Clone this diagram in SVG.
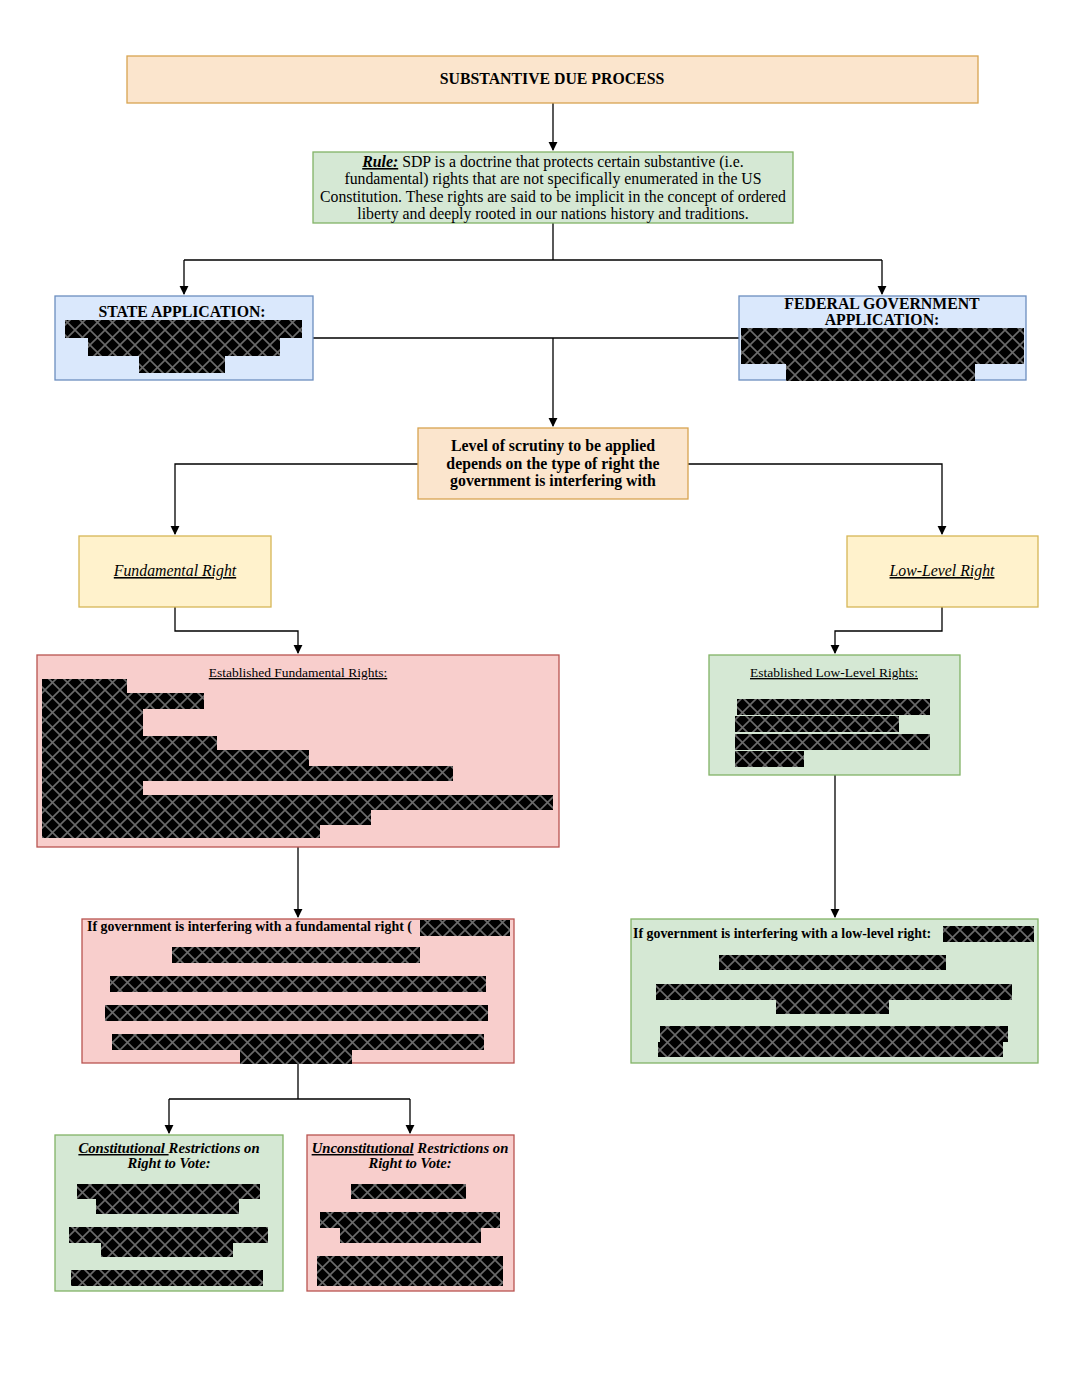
<svg xmlns="http://www.w3.org/2000/svg" width="1080" height="1397" viewBox="0 0 1080 1397">
<defs>
<pattern id="hx" width="15" height="15" patternUnits="userSpaceOnUse">
<rect width="15" height="15" fill="#000"/>
<path d="M0 0L15 15M15 0L0 15" stroke="#6a6a6a" stroke-width="1.6"/>
</pattern>
<marker id="ar" viewBox="0 0 10 10" refX="9" refY="5" markerWidth="7" markerHeight="7" orient="auto"><path d="M0 0L10 5L0 10z" fill="#000"/></marker>
</defs>
<style>
text{font-family:"Liberation Serif","DejaVu Serif",serif;font-size:15.8px;fill:#000}
.b{font-weight:bold}
.c{text-anchor:middle}
.s{font-size:13.5px}
.m{font-size:14.7px}
.g{font-size:13.9px}
.peach{fill:#fbe5cd;stroke:#d8a450;stroke-width:1.3}
.green{fill:#d5e8d4;stroke:#82b366;stroke-width:1.3}
.blue{fill:#dae8fc;stroke:#6c8ebf;stroke-width:1.3}
.yel{fill:#fff2cc;stroke:#d6b656;stroke-width:1.3}
.red{fill:#f8cecc;stroke:#b85450;stroke-width:1.3}
.x{fill:url(#hx)}
#conn path{fill:none;stroke:#000;stroke-width:1.3}
</style>
<rect width="1080" height="1397" fill="#fff"/>
<g id="conn">
<path d="M553 103V150" marker-end="url(#ar)"/>
<path d="M553 223V260M184 260H882M184 260V294" marker-end="url(#ar)"/>
<path d="M882 260V294" marker-end="url(#ar)"/>
<path d="M313 338H739M553 338V426" marker-end="url(#ar)"/>
<path d="M418 464H175V534" marker-end="url(#ar)"/>
<path d="M688 464H942V534" marker-end="url(#ar)"/>
<path d="M175 607V631H298V653" marker-end="url(#ar)"/>
<path d="M942 607V631H835V653" marker-end="url(#ar)"/>
<path d="M298 847V917" marker-end="url(#ar)"/>
<path d="M835 775V917" marker-end="url(#ar)"/>
<path d="M298 1063V1099M169 1099H410M169 1099V1133" marker-end="url(#ar)"/>
<path d="M410 1099V1133" marker-end="url(#ar)"/>
</g>
<g id="title"><rect class="peach" x="127" y="56" width="851" height="47"/><text class="b c" x="552" y="84">SUBSTANTIVE DUE PROCESS</text></g>
<g id="rule"><rect class="green" x="313" y="152" width="480" height="71"/>
<text class="c" x="553" y="167"><tspan font-weight="bold" font-style="italic" text-decoration="underline">Rule:</tspan> SDP is a doctrine that protects certain substantive (i.e.</text>
<text class="c" x="553" y="184">fundamental) rights that are not specifically enumerated in the US</text>
<text class="c" x="553" y="202">Constitution. These rights are said to be implicit in the concept of ordered</text>
<text class="c" x="553" y="219">liberty and deeply rooted in our nations history and traditions.</text></g>
<g id="state"><rect class="blue" x="55" y="296" width="258" height="84"/><text class="b c" x="182" y="317">STATE APPLICATION:</text>
<rect class="x" x="65" y="320" width="237" height="18"/><rect class="x" x="88" y="338" width="192" height="18"/><rect class="x" x="139" y="356" width="86" height="17"/></g>
<g id="federal"><rect class="blue" x="739" y="296" width="287" height="84"/><text class="b c" x="882" y="309">FEDERAL GOVERNMENT</text><text class="b c" x="882" y="325">APPLICATION:</text>
<rect class="x" x="741" y="328" width="283" height="36"/><rect class="x" x="786" y="364" width="189" height="17"/></g>
<g id="level"><rect class="peach" x="418" y="428" width="270" height="71"/>
<text class="b c" x="553" y="451">Level of scrutiny to be applied</text><text class="b c" x="553" y="469">depends on the type of right the</text><text class="b c" x="553" y="486">government is interfering with</text></g>
<g id="fund"><rect class="yel" x="79" y="536" width="192" height="71"/><text class="c" x="175" y="576" font-style="italic" text-decoration="underline">Fundamental Right</text></g>
<g id="low"><rect class="yel" x="847" y="536" width="191" height="71"/><text class="c" x="942" y="576" font-style="italic" text-decoration="underline">Low-Level Right</text></g>
<g id="estfund"><rect class="red" x="37" y="655" width="522" height="192"/>
<text class="c s" x="298" y="677" text-decoration="underline">Established Fundamental Rights:</text>
<rect class="x" x="42" y="679" width="85" height="159"/>
<rect class="x" x="126" y="693" width="78" height="16"/><rect class="x" x="126" y="709" width="17" height="27"/>
<rect class="x" x="126" y="736" width="91" height="14"/><rect class="x" x="126" y="750" width="183" height="16"/>
<rect class="x" x="126" y="766" width="327" height="15"/><rect class="x" x="126" y="781" width="17" height="14"/>
<rect class="x" x="126" y="795" width="427" height="15"/><rect class="x" x="126" y="810" width="245" height="15"/>
<rect class="x" x="126" y="825" width="194" height="13"/></g>
<g id="estlow"><rect class="green" x="709" y="655" width="251" height="120"/>
<text class="c s" x="834" y="677" text-decoration="underline">Established Low-Level Rights: </text>
<rect class="x" x="737" y="699" width="193" height="16"/><rect class="x" x="735" y="716" width="164" height="16"/>
<rect class="x" x="735" y="734" width="195" height="16"/><rect class="x" x="735" y="751" width="69" height="16"/></g>
<g id="govfund"><rect class="red" x="82" y="919" width="432" height="144"/>
<text class="b g" x="87" y="931">If government is interfering with a fundamental right (</text>
<rect class="x" x="420" y="920" width="90" height="16"/><rect class="x" x="172" y="947" width="248" height="16"/>
<rect class="x" x="110" y="976" width="376" height="16"/><rect class="x" x="105" y="1005" width="383" height="16"/>
<rect class="x" x="112" y="1034" width="372" height="16"/><rect class="x" x="240" y="1050" width="112" height="14"/></g>
<g id="govlow"><rect class="green" x="631" y="919" width="407" height="144"/>
<text class="b g" x="633" y="938">If government is interfering with a low-level right:</text>
<rect class="x" x="943" y="926" width="91" height="16"/><rect class="x" x="719" y="955" width="227" height="15"/>
<rect class="x" x="656" y="984" width="356" height="16"/><rect class="x" x="776" y="1000" width="113" height="14"/>
<rect class="x" x="660" y="1026" width="348" height="16"/><rect class="x" x="658" y="1042" width="345" height="15"/></g>
<g id="const"><rect class="green" x="55" y="1135" width="228" height="156"/>
<text class="b c m" x="169" y="1153" font-style="italic"><tspan text-decoration="underline">Constitutional </tspan>Restrictions on</text>
<text class="b c m" x="169" y="1168" font-style="italic">Right to Vote:</text>
<rect class="x" x="77" y="1184" width="183" height="15"/><rect class="x" x="96" y="1199" width="143" height="15"/>
<rect class="x" x="69" y="1227" width="199" height="16"/><rect class="x" x="101" y="1243" width="132" height="14"/>
<rect class="x" x="71" y="1270" width="192" height="16"/></g>
<g id="unconst"><rect class="red" x="307" y="1135" width="207" height="156"/>
<text class="b c m" x="410" y="1153" font-style="italic"><tspan text-decoration="underline">Unconstitutional</tspan> Restrictions on</text>
<text class="b c m" x="410" y="1168" font-style="italic">Right to Vote:</text>
<rect class="x" x="351" y="1184" width="115" height="15"/><rect class="x" x="320" y="1212" width="180" height="16"/>
<rect class="x" x="340" y="1228" width="141" height="15"/><rect class="x" x="317" y="1256" width="186" height="30"/></g>
</svg>
